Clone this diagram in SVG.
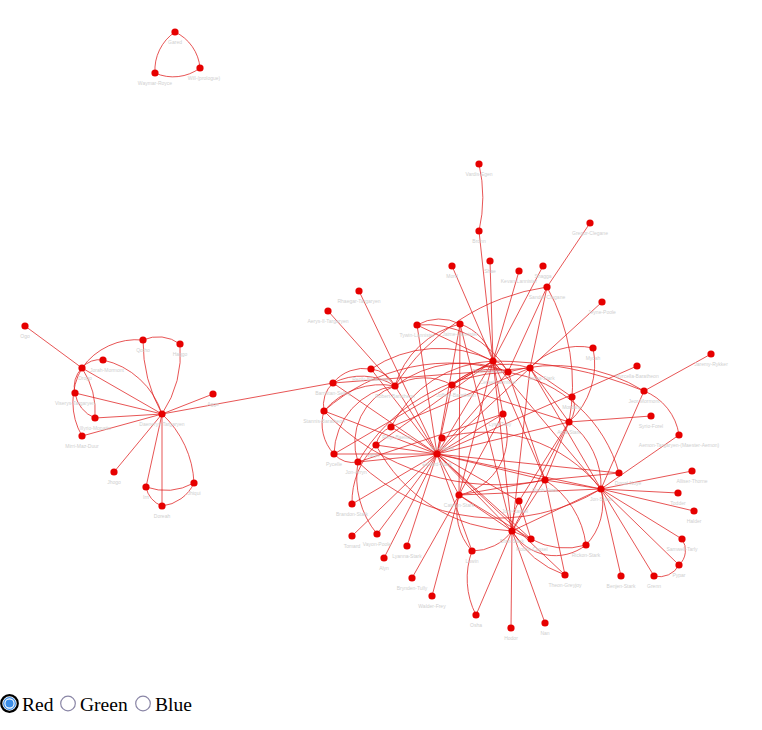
<svg xmlns="http://www.w3.org/2000/svg" width="762" height="730" viewBox="0 0 762 730">
<style>
.l{fill:none;stroke:#e02020;stroke-width:0.9;stroke-opacity:0.85}
.n circle{fill:#e60000}
.n text{font-family:"Liberation Sans",Arial,sans-serif;font-size:5px;fill:#cfcfcf;text-anchor:middle}
.r{font-family:"Liberation Serif","Times New Roman",serif;font-size:19.5px;fill:#000}
</style>
<rect width="762" height="730" fill="#fff"/>
<g id="links">
<path class="l" d="M175 32A44 44 0 0 1 200 68"/>
<path class="l" d="M200 68A45 45 0 0 1 155 73"/>
<path class="l" d="M155 73A46 46 0 0 1 175 32"/>
<path class="l" d="M25 326L82 368"/>
<path class="l" d="M82 368L162 414"/>
<path class="l" d="M103 360A80 80 0 0 1 162 414"/>
<path class="l" d="M82 368A22 22 0 0 1 103 360"/>
<path class="l" d="M82 368A67 67 0 0 1 143 340"/>
<path class="l" d="M143 340A37 37 0 0 1 180 344"/>
<path class="l" d="M143 340A150 150 0 0 0 162 414"/>
<path class="l" d="M180 344A110 110 0 0 1 162 414"/>
<path class="l" d="M82 368A26 26 0 0 0 75 393"/>
<path class="l" d="M75 393L162 414"/>
<path class="l" d="M75 393A32 32 0 0 0 95 418"/>
<path class="l" d="M82 368A80 80 0 0 1 95 418"/>
<path class="l" d="M82 368A68 68 0 0 0 82 436"/>
<path class="l" d="M82 436L162 414"/>
<path class="l" d="M95 418L162 414"/>
<path class="l" d="M213 394L162 414"/>
<path class="l" d="M114 472L162 414"/>
<path class="l" d="M146 487L162 414"/>
<path class="l" d="M162 506L162 414"/>
<path class="l" d="M162 414A100 100 0 0 1 194 483"/>
<path class="l" d="M146 487A60 60 0 0 0 194 483"/>
<path class="l" d="M146 487A25 25 0 0 0 162 506"/>
<path class="l" d="M162 506A40 40 0 0 0 194 483"/>
<path class="l" d="M162 414L333 383"/>
<path class="l" d="M479 164A150 150 0 0 1 479 231"/>
<path class="l" d="M479 231L493 361"/>
<path class="l" d="M452 266L493 361"/>
<path class="l" d="M490 261L493 361"/>
<path class="l" d="M519 271L493 361"/>
<path class="l" d="M543 266L493 361"/>
<path class="l" d="M590 223L547 287"/>
<path class="l" d="M547 287L508 372"/>
<path class="l" d="M547 287L530 368"/>
<path class="l" d="M602 302L530 368"/>
<path class="l" d="M637 366L437 454"/>
<path class="l" d="M644 391L711 354"/>
<path class="l" d="M644 391L601 489"/>
<path class="l" d="M651 416L569 422"/>
<path class="l" d="M679 435L601 489"/>
<path class="l" d="M692 471L601 489"/>
<path class="l" d="M678 493L601 489"/>
<path class="l" d="M694 511L601 489"/>
<path class="l" d="M682 539L601 489"/>
<path class="l" d="M679 565L601 489"/>
<path class="l" d="M654 576L601 489"/>
<path class="l" d="M621 576L601 489"/>
<path class="l" d="M545 480L565 575"/>
<path class="l" d="M512 531L511 628"/>
<path class="l" d="M512 531L545 623"/>
<path class="l" d="M512 531L476 615"/>
<path class="l" d="M512 531L531 539"/>
<path class="l" d="M512 531L601 489"/>
<path class="l" d="M352 504L437 454"/>
<path class="l" d="M352 536L437 454"/>
<path class="l" d="M377 534L437 454"/>
<path class="l" d="M384 558L437 454"/>
<path class="l" d="M407 546L437 454"/>
<path class="l" d="M412 578L459 495"/>
<path class="l" d="M432 596L459 495"/>
<path class="l" d="M359 291L437 454"/>
<path class="l" d="M328 311L395 386"/>
<path class="l" d="M437 454L493 361"/>
<path class="l" d="M437 454L508 372"/>
<path class="l" d="M437 454L530 368"/>
<path class="l" d="M437 454L460 324"/>
<path class="l" d="M437 454L395 386"/>
<path class="l" d="M437 454L371 369"/>
<path class="l" d="M437 454L324 411"/>
<path class="l" d="M437 454L391 427"/>
<path class="l" d="M437 454L376 445"/>
<path class="l" d="M437 454L334 454"/>
<path class="l" d="M437 454L358 462"/>
<path class="l" d="M437 454L459 495"/>
<path class="l" d="M437 454L503 414"/>
<path class="l" d="M437 454L569 422"/>
<path class="l" d="M437 454L601 489"/>
<path class="l" d="M437 454L545 480"/>
<path class="l" d="M437 454L512 531"/>
<path class="l" d="M437 454L519 501"/>
<path class="l" d="M437 454L531 539"/>
<path class="l" d="M437 454L472 551"/>
<path class="l" d="M437 454L442 438"/>
<path class="l" d="M437 454L452 385"/>
<path class="l" d="M437 454L619 473"/>
<path class="l" d="M437 454L333 383"/>
<path class="l" d="M437 454L417 325"/>
<path class="l" d="M437 454L565 575"/>
<path class="l" d="M459 495L601 489"/>
<path class="l" d="M459 495L545 480"/>
<path class="l" d="M459 495L512 531"/>
<path class="l" d="M459 495L503 414"/>
<path class="l" d="M459 495L493 361"/>
<path class="l" d="M459 495L531 539"/>
<path class="l" d="M459 495A60 60 0 0 0 472 551"/>
<path class="l" d="M493 361L601 489"/>
<path class="l" d="M493 361L512 531"/>
<path class="l" d="M493 361A20 20 0 0 1 508 372"/>
<path class="l" d="M508 372A22 22 0 0 1 493 361"/>
<path class="l" d="M493 361A50 50 0 0 0 460 324"/>
<path class="l" d="M493 361L452 385"/>
<path class="l" d="M493 361L503 414"/>
<path class="l" d="M493 361A400 400 0 0 1 644 391"/>
<path class="l" d="M545 480L601 489"/>
<path class="l" d="M545 480L619 473"/>
<path class="l" d="M545 480L569 422"/>
<path class="l" d="M545 480L512 531"/>
<path class="l" d="M545 480A90 90 0 0 1 586 545"/>
<path class="l" d="M545 480L493 361"/>
<path class="l" d="M569 422L512 531"/>
<path class="l" d="M569 422L519 501"/>
<path class="l" d="M569 422A80 80 0 0 1 601 489"/>
<path class="l" d="M569 422L530 368"/>
<path class="l" d="M572 397A22 22 0 0 1 569 422"/>
<path class="l" d="M572 397L530 368"/>
<path class="l" d="M593 348A78 78 0 0 1 569 422"/>
<path class="l" d="M593 348A66 66 0 0 0 530 368"/>
<path class="l" d="M547 287A200 200 0 0 1 569 422"/>
<path class="l" d="M547 287A215 215 0 0 0 395 386"/>
<path class="l" d="M601 489A60 60 0 0 1 586 545"/>
<path class="l" d="M512 531A50 50 0 0 0 586 545"/>
<path class="l" d="M531 539A70 70 0 0 0 586 545"/>
<path class="l" d="M512 531A100 100 0 0 0 565 575"/>
<path class="l" d="M682 539A20 20 0 0 1 679 565"/>
<path class="l" d="M679 565A22 22 0 0 1 654 576"/>
<path class="l" d="M644 391A56 56 0 0 1 679 435"/>
<path class="l" d="M476 615A80 80 0 0 1 472 551"/>
<path class="l" d="M472 551A50 50 0 0 0 512 531"/>
<path class="l" d="M519 501L531 539"/>
<path class="l" d="M519 501A60 60 0 0 0 512 531"/>
<path class="l" d="M395 386A114 114 0 0 1 508 372"/>
<path class="l" d="M395 386A90 90 0 0 1 460 324"/>
<path class="l" d="M395 386A57 57 0 0 1 452 385"/>
<path class="l" d="M371 369A30 30 0 0 1 395 386"/>
<path class="l" d="M333 383A62 62 0 0 1 395 386"/>
<path class="l" d="M371 369A40 40 0 0 0 333 383"/>
<path class="l" d="M333 383A30 30 0 0 0 324 411"/>
<path class="l" d="M324 411A44 44 0 0 0 334 454"/>
<path class="l" d="M334 454A26 26 0 0 0 358 462"/>
<path class="l" d="M376 445A25 25 0 0 1 391 427"/>
<path class="l" d="M371 369A122 122 0 0 1 493 361"/>
<path class="l" d="M324 411A190 190 0 0 1 508 372"/>
<path class="l" d="M334 454L493 361"/>
<path class="l" d="M358 462L503 414"/>
<path class="l" d="M358 462A60 60 0 0 1 395 386"/>
<path class="l" d="M376 445L493 361"/>
<path class="l" d="M391 427L530 368"/>
<path class="l" d="M391 427A120 120 0 0 1 493 361"/>
<path class="l" d="M334 454A70 70 0 0 1 395 386"/>
<path class="l" d="M324 411A75 75 0 0 1 395 386"/>
<path class="l" d="M333 383L530 368"/>
<path class="l" d="M358 462A180 180 0 0 1 508 372"/>
<path class="l" d="M460 324A45 45 0 0 0 417 325"/>
<path class="l" d="M417 325L493 361"/>
<path class="l" d="M417 325A95 95 0 0 1 508 372"/>
<path class="l" d="M460 324L512 531"/>
<path class="l" d="M460 324L459 495"/>
<path class="l" d="M452 385A80 80 0 0 1 530 368"/>
<path class="l" d="M452 385L569 422"/>
<path class="l" d="M452 385A56 56 0 0 1 508 372"/>
<path class="l" d="M503 414A60 60 0 0 1 459 495"/>
<path class="l" d="M358 462A200 200 0 0 0 601 489"/>
<path class="l" d="M324 411A240 240 0 0 0 545 480"/>
<path class="l" d="M376 445A160 160 0 0 0 512 531"/>
<path class="l" d="M442 438A150 150 0 0 1 601 489"/>
<path class="l" d="M352 504A80 80 0 0 1 376 445"/>
<path class="l" d="M377 534A90 90 0 0 1 358 462"/>
<path class="l" d="M508 372A170 170 0 0 1 644 391"/>
<path class="l" d="M530 368L601 489"/>
<path class="l" d="M508 372L545 480"/>
<path class="l" d="M530 368L512 531"/>
<path class="l" d="M508 372A140 140 0 0 1 619 473"/>
</g>
<g id="n-gared" class="n"><circle cx="175" cy="32" r="3.6"/><text x="175" y="44">Gared</text></g>
<g id="n-will" class="n"><circle cx="200" cy="68" r="3.6"/><text x="204" y="80">Will-(prologue)</text></g>
<g id="n-waymar" class="n"><circle cx="155" cy="73" r="3.6"/><text x="155" y="85">Waymar-Royce</text></g>
<g id="n-ogo" class="n"><circle cx="25" cy="326" r="3.6"/><text x="25" y="338">Ogo</text></g>
<g id="n-drogo" class="n"><circle cx="82" cy="368" r="3.6"/><text x="85" y="380">Drogo</text></g>
<g id="n-jorah" class="n"><circle cx="103" cy="360" r="3.6"/><text x="107" y="372">Jorah-Mormont</text></g>
<g id="n-qotho" class="n"><circle cx="143" cy="340" r="3.6"/><text x="143" y="352">Qotho</text></g>
<g id="n-haggo" class="n"><circle cx="180" cy="344" r="3.6"/><text x="180" y="356">Haggo</text></g>
<g id="n-viserys" class="n"><circle cx="75" cy="393" r="3.6"/><text x="75" y="405">Viserys-Targaryen</text></g>
<g id="n-illyrio" class="n"><circle cx="95" cy="418" r="3.6"/><text x="95" y="430">Illyrio-Mopatis</text></g>
<g id="n-mirri" class="n"><circle cx="82" cy="436" r="3.6"/><text x="82" y="448">Mirri-Maz-Duur</text></g>
<g id="n-daenerys" class="n"><circle cx="162" cy="414" r="3.6"/><text x="162" y="426">Daenerys-Targaryen</text></g>
<g id="n-aggo" class="n"><circle cx="213" cy="394" r="3.6"/><text x="213" y="406">Aggo</text></g>
<g id="n-jhogo" class="n"><circle cx="114" cy="472" r="3.6"/><text x="114" y="484">Jhogo</text></g>
<g id="n-irri" class="n"><circle cx="146" cy="487" r="3.6"/><text x="146" y="499">Irri</text></g>
<g id="n-jhiqui" class="n"><circle cx="194" cy="483" r="3.6"/><text x="194" y="495">Jhiqui</text></g>
<g id="n-doreah" class="n"><circle cx="162" cy="506" r="3.6"/><text x="162" y="518">Doreah</text></g>
<g id="n-vardis" class="n"><circle cx="479" cy="164" r="3.6"/><text x="479" y="176">Vardis-Egen</text></g>
<g id="n-bronn" class="n"><circle cx="479" cy="231" r="3.6"/><text x="479" y="243">Bronn</text></g>
<g id="n-mord" class="n"><circle cx="452" cy="266" r="3.6"/><text x="452" y="278">Mord</text></g>
<g id="n-shae" class="n"><circle cx="490" cy="261" r="3.6"/><text x="490" y="273">Shae</text></g>
<g id="n-kevan" class="n"><circle cx="519" cy="271" r="3.6"/><text x="519" y="283">Kevan-Lannister</text></g>
<g id="n-shagga" class="n"><circle cx="543" cy="266" r="3.6"/><text x="543" y="278">Shagga</text></g>
<g id="n-gregor" class="n"><circle cx="590" cy="223" r="3.6"/><text x="590" y="235">Gregor-Clegane</text></g>
<g id="n-sandor" class="n"><circle cx="547" cy="287" r="3.6"/><text x="547" y="299">Sandor-Clegane</text></g>
<g id="n-jeyne" class="n"><circle cx="602" cy="302" r="3.6"/><text x="602" y="314">Jeyne-Poole</text></g>
<g id="n-mycah" class="n"><circle cx="593" cy="348" r="3.6"/><text x="593" y="360">Mycah</text></g>
<g id="n-myrcella" class="n"><circle cx="637" cy="366" r="3.6"/><text x="637" y="378">Myrcella-Baratheon</text></g>
<g id="n-jeor" class="n"><circle cx="644" cy="391" r="3.6"/><text x="644" y="403">Jeor-Mormont</text></g>
<g id="n-jaremy" class="n"><circle cx="711" cy="354" r="3.6"/><text x="711" y="366">Jaremy-Rykker</text></g>
<g id="n-syrio" class="n"><circle cx="651" cy="416" r="3.6"/><text x="651" y="428">Syrio-Forel</text></g>
<g id="n-mordane" class="n"><circle cx="572" cy="397" r="3.6"/><text x="572" y="409">Mordane</text></g>
<g id="n-arya" class="n"><circle cx="569" cy="422" r="3.6"/><text x="569" y="434">Arya-Stark</text></g>
<g id="n-aemon" class="n"><circle cx="679" cy="435" r="3.6"/><text x="679" y="447">Aemon-Targaryen-(Maester-Aemon)</text></g>
<g id="n-jon" class="n"><circle cx="601" cy="489" r="3.6"/><text x="601" y="501">Jon-Snow</text></g>
<g id="n-donal" class="n"><circle cx="619" cy="473" r="3.6"/><text x="628" y="485">Donal-Noye</text></g>
<g id="n-alliser" class="n"><circle cx="692" cy="471" r="3.6"/><text x="692" y="483">Alliser-Thorne</text></g>
<g id="n-todder" class="n"><circle cx="678" cy="493" r="3.6"/><text x="678" y="505">Todder</text></g>
<g id="n-halder" class="n"><circle cx="694" cy="511" r="3.6"/><text x="694" y="523">Halder</text></g>
<g id="n-samwell" class="n"><circle cx="682" cy="539" r="3.6"/><text x="682" y="551">Samwell-Tarly</text></g>
<g id="n-pypar" class="n"><circle cx="679" cy="565" r="3.6"/><text x="679" y="577">Pypar</text></g>
<g id="n-grenn" class="n"><circle cx="654" cy="576" r="3.6"/><text x="654" y="588">Grenn</text></g>
<g id="n-benjen" class="n"><circle cx="621" cy="576" r="3.6"/><text x="621" y="588">Benjen-Stark</text></g>
<g id="n-rickon" class="n"><circle cx="586" cy="545" r="3.6"/><text x="586" y="557">Rickon-Stark</text></g>
<g id="n-theon" class="n"><circle cx="565" cy="575" r="3.6"/><text x="565" y="587">Theon-Greyjoy</text></g>
<g id="n-nan" class="n"><circle cx="545" cy="623" r="3.6"/><text x="545" y="635">Nan</text></g>
<g id="n-hodor" class="n"><circle cx="511" cy="628" r="3.6"/><text x="511" y="640">Hodor</text></g>
<g id="n-bran" class="n"><circle cx="512" cy="531" r="3.6"/><text x="512" y="543">Bran-Stark</text></g>
<g id="n-robb" class="n"><circle cx="545" cy="480" r="3.6"/><text x="545" y="492">Robb-Stark</text></g>
<g id="n-jory" class="n"><circle cx="519" cy="501" r="3.6"/><text x="515" y="513">Jory-Cassel</text></g>
<g id="n-rodrik" class="n"><circle cx="531" cy="539" r="3.6"/><text x="532" y="551">Rodrik-Cassel</text></g>
<g id="n-lysa" class="n"><circle cx="503" cy="414" r="3.6"/><text x="500" y="426">Lysa-Tully</text></g>
<g id="n-brandon" class="n"><circle cx="352" cy="504" r="3.6"/><text x="352" y="516">Brandon-Stark</text></g>
<g id="n-tomard" class="n"><circle cx="352" cy="536" r="3.6"/><text x="352" y="548">Tomard</text></g>
<g id="n-vayon" class="n"><circle cx="377" cy="534" r="3.6"/><text x="377" y="546">Vayon-Poole</text></g>
<g id="n-lyanna" class="n"><circle cx="407" cy="546" r="3.6"/><text x="407" y="558">Lyanna-Stark</text></g>
<g id="n-alyn" class="n"><circle cx="384" cy="558" r="3.6"/><text x="384" y="570">Alyn</text></g>
<g id="n-brynden" class="n"><circle cx="412" cy="578" r="3.6"/><text x="412" y="590">Brynden-Tully</text></g>
<g id="n-walder" class="n"><circle cx="432" cy="596" r="3.6"/><text x="432" y="608">Walder-Frey</text></g>
<g id="n-luwin" class="n"><circle cx="472" cy="551" r="3.6"/><text x="472" y="563">Luwin</text></g>
<g id="n-osha" class="n"><circle cx="476" cy="615" r="3.6"/><text x="476" y="627">Osha</text></g>
<g id="n-catelyn" class="n"><circle cx="459" cy="495" r="3.6"/><text x="459" y="507">Catelyn-Stark</text></g>
<g id="n-eddard" class="n"><circle cx="437" cy="454" r="3.6"/><text x="437" y="466">Eddard-Stark</text></g>
<g id="n-tyrion" class="n"><circle cx="493" cy="361" r="3.6"/><text x="490" y="373">Tyrion-Lannister</text></g>
<g id="n-cersei" class="n"><circle cx="508" cy="372" r="3.6"/><text x="498" y="384">Cersei-Lannister</text></g>
<g id="n-sansa" class="n"><circle cx="530" cy="368" r="3.6"/><text x="541" y="380">Sansa-Stark</text></g>
<g id="n-jaime" class="n"><circle cx="460" cy="324" r="3.6"/><text x="460" y="336">Jaime-Lannister</text></g>
<g id="n-tywin" class="n"><circle cx="417" cy="325" r="3.6"/><text x="417" y="337">Tywin-Lannister</text></g>
<g id="n-rhaegar" class="n"><circle cx="359" cy="291" r="3.6"/><text x="359" y="303">Rhaegar-Targaryen</text></g>
<g id="n-aerys" class="n"><circle cx="328" cy="311" r="3.6"/><text x="328" y="323">Aerys-II-Targaryen</text></g>
<g id="n-robert" class="n"><circle cx="395" cy="386" r="3.6"/><text x="395" y="398">Robert-Baratheon</text></g>
<g id="n-renly" class="n"><circle cx="371" cy="369" r="3.6"/><text x="371" y="381">Renly-Baratheon</text></g>
<g id="n-barristan" class="n"><circle cx="333" cy="383" r="3.6"/><text x="333" y="395">Barristan-Selmy</text></g>
<g id="n-stannis" class="n"><circle cx="324" cy="411" r="3.6"/><text x="324" y="423">Stannis-Baratheon</text></g>
<g id="n-petyr" class="n"><circle cx="391" cy="427" r="3.6"/><text x="397" y="439">Petyr-Baelish</text></g>
<g id="n-varys" class="n"><circle cx="376" cy="445" r="3.6"/><text x="373" y="457">Varys</text></g>
<g id="n-pycelle" class="n"><circle cx="334" cy="454" r="3.6"/><text x="334" y="466">Pycelle</text></g>
<g id="n-jonarryn" class="n"><circle cx="358" cy="462" r="3.6"/><text x="356" y="474">Jon-Arryn</text></g>
<g id="n-joffrey" class="n"><circle cx="452" cy="385" r="3.6"/><text x="456" y="397">Joffrey-Baratheon</text></g>
<g id="n-ilyn" class="n"><circle cx="442" cy="438" r="3.6"/><text x="442" y="450">Ilyn-Payne</text></g>
<g id="controls">
<circle cx="9.5" cy="703.5" r="8.3" fill="#fff" stroke="#000" stroke-width="2.2"/>
<circle cx="9.5" cy="703.5" r="6.4" fill="#3c8ee8"/>
<circle cx="9.5" cy="703.5" r="4.6" fill="none" stroke="#fff" stroke-width="1.1"/>
<text class="r" x="22" y="711">Red</text>
<circle cx="68" cy="703.5" r="7.3" fill="#fff" stroke="#8a86a6" stroke-width="1.2"/>
<text class="r" x="80" y="711">Green</text>
<circle cx="143" cy="703.5" r="7.3" fill="#fff" stroke="#8a86a6" stroke-width="1.2"/>
<text class="r" x="155" y="711">Blue</text>
</g>
</svg>
